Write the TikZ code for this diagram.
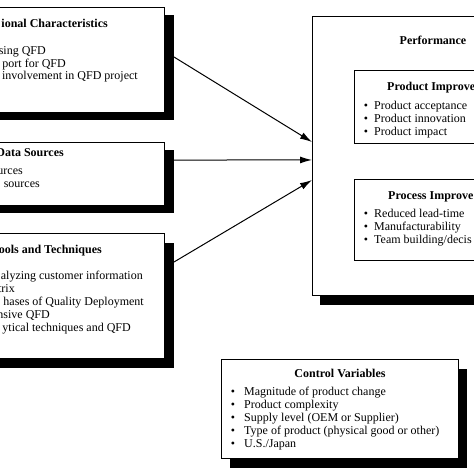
\documentclass[tikz,border=0pt]{standalone}
\usepackage{fontspec}
\setmainfont{Liberation Serif}
\usetikzlibrary{arrows.meta,calc}
\begin{document}
\begin{tikzpicture}[x=1pt,y=-1pt,
  font=\fontsize{12}{13}\selectfont,
  box/.style={draw=black, line width=0.9pt, fill=white, anchor=north west, inner sep=0pt, outer sep=0pt},
  shade/.style={fill=black, draw=none, anchor=north west, inner sep=0pt, outer sep=0pt},
  txt/.style={inner sep=0pt, text height=8pt, text depth=2.5pt},
  ttl/.style={txt, font=\fontsize{12}{13}\selectfont\bfseries},
  arr/.style={line width=1pt, -{Latex[length=12pt,width=7pt]}}]
\clip (0,0) rectangle (474,474);
\fill[white] (0,0) rectangle (474,474);

% shadows
\node[shade, minimum width=364pt, minimum height=105pt] (orgsh) at (-190,15) {};
\node[shade, minimum width=364pt, minimum height=63pt] (datsh) at (-190,150) {};
\node[shade, minimum width=364pt, minimum height=125pt] (toolsh) at (-190,243) {};
\node[shade, minimum width=242pt, minimum height=279pt] (perfsh) at (320,26) {};
\node[shade, minimum width=237pt, minimum height=99pt] (ctrlsh) at (230,369) {};

% boxes
\node[box, minimum width=364pt, minimum height=105pt] (org) at (-200,7) {};
\node[box, minimum width=364pt, minimum height=63pt] (dat) at (-200,142) {};
\node[box, minimum width=364pt, minimum height=125pt] (tool) at (-200,233) {};
\node[box, minimum width=242pt, minimum height=279pt] (perf) at (312,16) {};
\node[box, minimum width=206pt, minimum height=73pt] (prod) at (354,70) {};
\node[box, minimum width=206pt, minimum height=81pt] (proc) at (354,179) {};
\node[box, minimum width=237pt, minimum height=99pt] (ctrl) at (221,359) {};

% box 1 text
\node[ttl, anchor=east] (t1) at (108,25) {ional Characteristics};
\node[txt, anchor=east] (t1a) at (46,52) {sing QFD};
\node[txt, anchor=east] (t1b) at (66,65) {port for QFD};
\node[txt, anchor=east] (t1c) at (138,77) {involvement in QFD project};

% box 2 text
\node[ttl, anchor=east] (t2) at (64,154) {Data Sources};
\node[txt, anchor=east] (t2a) at (23,172) {urces};
\node[txt, anchor=east] (t2b) at (40,185) {sources};

% box 3 text
\node[ttl, anchor=east] (t3) at (102,251) {ools and Techniques};
\node[txt, anchor=east] (t3a) at (143,277) {alyzing customer information};
\node[txt, anchor=east] (t3b) at (15,290) {trix};
\node[txt, anchor=east] (t3c) at (144,303) {hases of Quality Deployment};
\node[txt, anchor=east] (t3d) at (50,316) {nsive QFD};
\node[txt, anchor=east] (t3e) at (131,329) {ytical techniques and QFD};

% performance
\node[ttl] (tp) at (433,42) {Performance};
\node[ttl, anchor=west] (tpr) at (387,88) {Product Improve};
\node[txt] (bp1) at (366,107) {•};
\node[txt] (bp2) at (366,120) {•};
\node[txt] (bp3) at (366,133) {•};
\node[txt, anchor=west] (ip1) at (374,107) {Product acceptance};
\node[txt, anchor=west] (ip2) at (374,120) {Product innovation};
\node[txt, anchor=west] (ip3) at (374,133) {Product impact};

\node[ttl, anchor=west] (tpc) at (388,197) {Process Improve};
\node[txt] (bq1) at (366,215) {•};
\node[txt] (bq2) at (366,228) {•};
\node[txt] (bq3) at (366,241) {•};
\node[txt, anchor=west] (iq1) at (374,215) {Reduced lead-time};
\node[txt, anchor=west] (iq2) at (374,228) {Manufacturability};
\node[txt, anchor=west] (iq3) at (374,241) {Team building/decis};

% control variables
\node[ttl] (tc) at (340,375) {Control Variables};
\foreach \y/\t [count=\i] in {393/{Magnitude of product change},406/{Product complexity},419/{Supply level (OEM or Supplier)},432/{Type of product (physical good or other)},445/{U.S./Japan}}{
  \node[txt] (bc\i) at (233,\y) {•};
  \node[txt, anchor=west] (ic\i) at (244,\y) {\t};
}

% arrows
\draw[arr] ($(orgsh.north east)!0.4!(orgsh.south east)$) -- ($(perf.north west)!0.4516!(perf.south west)$);
\draw[arr] ($(datsh.north east)!0.159!(datsh.south east)$) -- ($(perf.north west)!0.516!(perf.south west)$);
\draw[arr] ($(toolsh.north east)!0.152!(toolsh.south east)$) -- ($(perf.north west)!0.588!(perf.south west)$);
\end{tikzpicture}
\end{document}
